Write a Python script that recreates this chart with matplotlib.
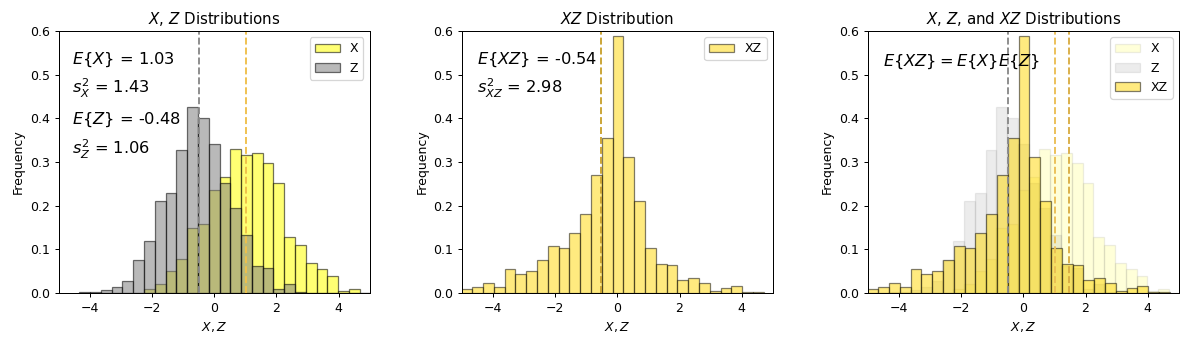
import numpy as np
import matplotlib
matplotlib.use('Agg')
import matplotlib.pyplot as plt

# histogram heights (density)
xz_bin_start = -4.34   # shared bins for X and Z
xz_bin_w = 0.347
x_heights = [0, 0, 0, 0, 0, 0, 0.010, 0.020, 0.050, 0.079, 0.150, 0.158, 0.236, 0.265,
             0.330, 0.315, 0.321, 0.297, 0.253, 0.128, 0.110, 0.068, 0.054, 0.039, 0.005,
             0.008, 0.0]
z_heights = [0.002, 0.002, 0.006, 0.013, 0.027, 0.075, 0.120, 0.211, 0.230, 0.327, 0.425,
             0.400, 0.341, 0.253, 0.194, 0.132, 0.062, 0.057, 0.008, 0.020, 0.003, 0, 0,
             0, 0, 0, 0]

prod_bin_start = -5.02
prod_bin_w = 0.3475
prod_heights = [0.010, 0.014, 0.024, 0.013, 0.056, 0.044, 0.050, 0.076, 0.107, 0.102,
                0.137, 0.182, 0.271, 0.354, 0.589, 0.312, 0.211, 0.102, 0.066, 0.063,
                0.030, 0.034, 0.024, 0.005, 0.012, 0.015, 0.002, 0.002]

mean_x, var_x = 1.03, 1.43
mean_z, var_z = -0.48, 1.06
mean_xz, var_xz = -0.54, 2.98
extra_line = 1.47   # third dashed line in last panel

x_edges = xz_bin_start + xz_bin_w * np.arange(len(x_heights))
p_edges = prod_bin_start + prod_bin_w * np.arange(len(prod_heights))

fig = plt.figure(figsize=(1200 / 90, 353 / 90), dpi=90)
lefts = [0.049, 0.385, 0.7233]
axes = [fig.add_axes([l, 0.17, 0.259, 0.742]) for l in lefts]

# 1. X and Z
ax = axes[0]
ax.bar(x_edges, x_heights, width=xz_bin_w, align='edge', color='yellow', alpha=0.55,
       edgecolor='k', label='X')
ax.bar(x_edges, z_heights, width=xz_bin_w, align='edge', color='gray', alpha=0.55,
       edgecolor='k', label='Z')
ax.axvline(mean_z, color='#8a8a8a', ls='--', lw=1.5)
ax.axvline(mean_x, color='#f0c04a', ls='--', lw=1.5)
ax.text(-4.58, 0.534, r'$E\{X\}$ = %.2f' % mean_x, fontsize=13, va='center')
ax.text(-4.58, 0.469, r'$s_X^2$ = %.2f' % var_x, fontsize=13, va='center')
ax.text(-4.58, 0.397, r'$E\{Z\}$ = %.2f' % mean_z, fontsize=13, va='center')
ax.text(-4.58, 0.330, r'$s_Z^2$ = %.2f' % var_z, fontsize=13, va='center')
ax.set_title('$X$, $Z$ Distributions')
ax.legend(loc='upper right')

# 2. XZ
ax = axes[1]
ax.bar(p_edges, prod_heights, width=prod_bin_w, align='edge', color='gold', alpha=0.5,
       edgecolor='k', label='XZ')
ax.axvline(mean_xz, color='#c9a230', ls='--', lw=1.5)
ax.text(-4.52, 0.534, r'$E\{XZ\}$ = %.2f' % mean_xz, fontsize=13, va='center')
ax.text(-4.52, 0.469, r'$s_{XZ}^2$ = %.2f' % var_xz, fontsize=13, va='center')
ax.set_title('$XZ$ Distribution')
ax.legend(loc='upper right')

# 3. all three
ax = axes[2]
ax.bar(x_edges, x_heights, width=xz_bin_w, align='edge', color='yellow', alpha=0.15,
       edgecolor='gray', label='X')
ax.bar(x_edges, z_heights, width=xz_bin_w, align='edge', color='gray', alpha=0.15,
       edgecolor='gray', label='Z')
ax.bar(p_edges, prod_heights, width=prod_bin_w, align='edge', color='gold', alpha=0.5,
       edgecolor='k', label='XZ')
ax.axvline(mean_z, color='#8a8a8a', ls='--', lw=1.5)
ax.axvline(mean_x, color='#ebbf55', ls='--', lw=1.5)
ax.axvline(extra_line, color='#d9ad45', ls='--', lw=1.5)
ax.text(-4.52, 0.53, r'$E\{XZ\} = E\{X\}E\{Z\}$', fontsize=13, va='center')
ax.set_title('$X$, $Z$, and $XZ$ Distributions')
ax.legend(loc='upper right')

for ax in axes:
    ax.set_xlim(-5, 5)
    ax.set_ylim(0, 0.6)
    ax.set_xlabel('$X, Z$')
    ax.set_ylabel('Frequency')

fig.savefig('out.png', dpi=90)
